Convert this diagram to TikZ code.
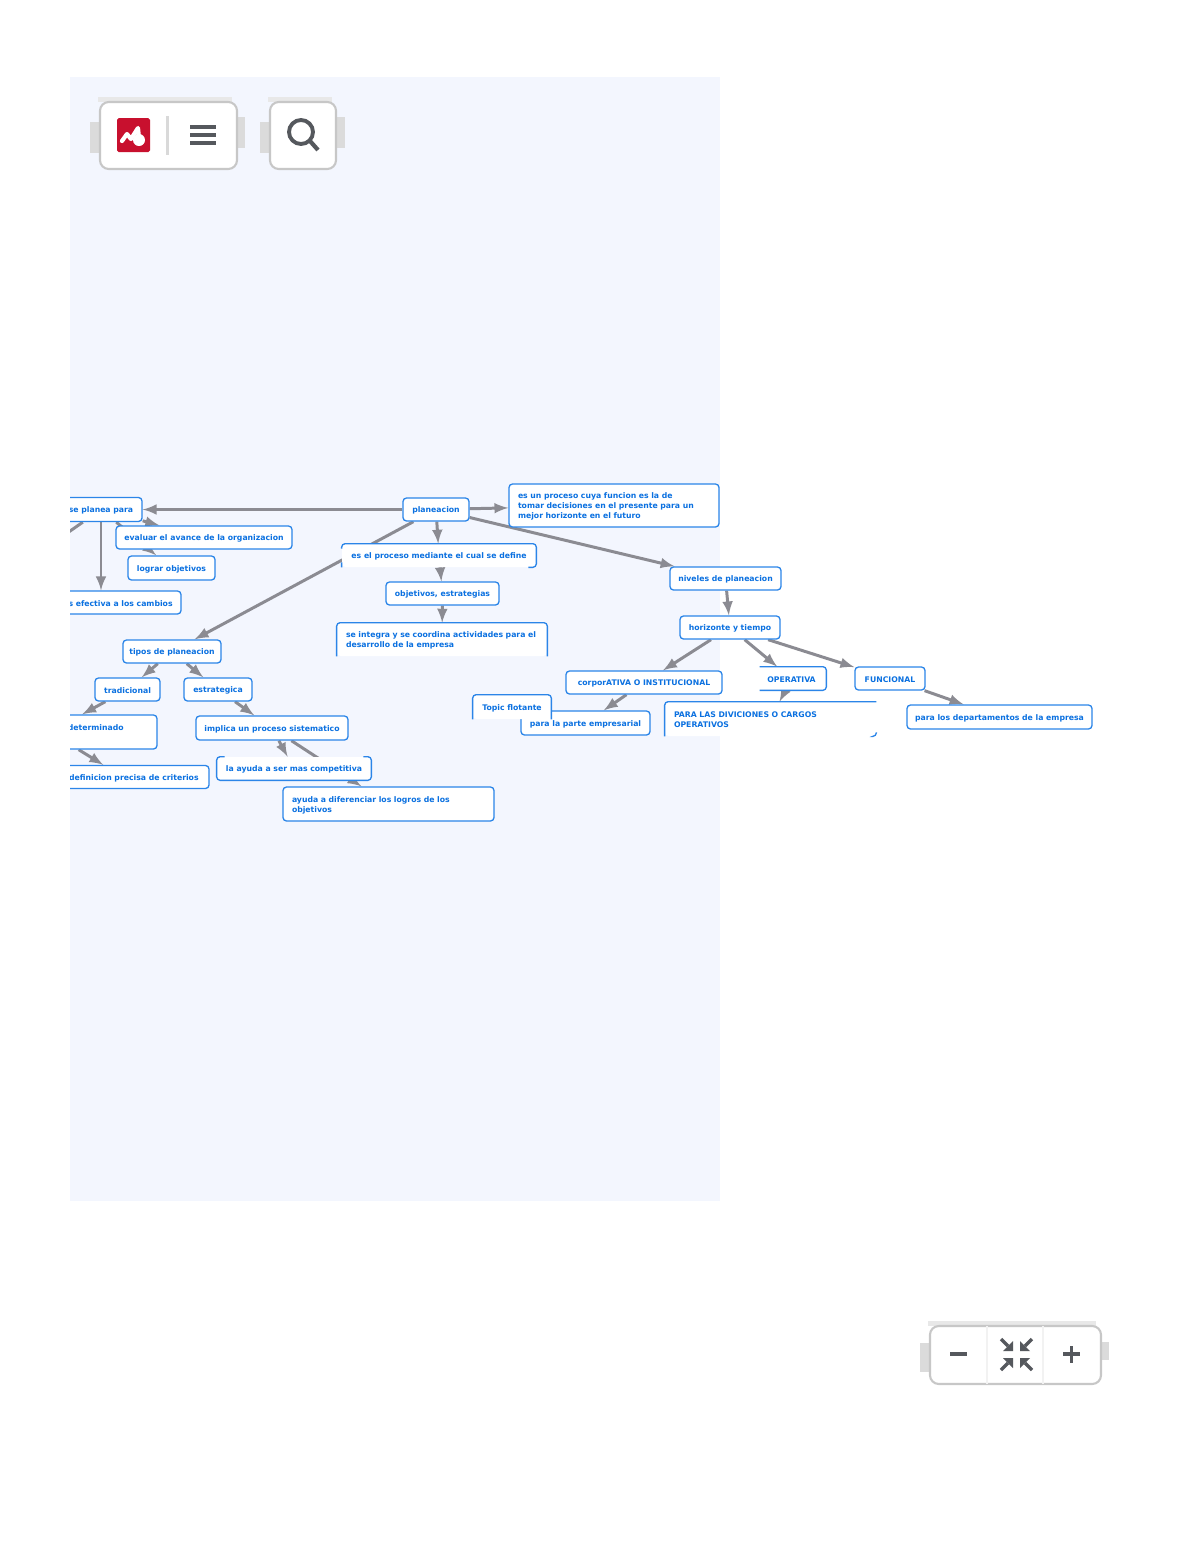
\documentclass[tikz,border=0pt]{standalone}
\usepackage{fontspec}
\setmainfont{DejaVu Sans}
\usetikzlibrary{backgrounds,calc}
\definecolor{panelblue}{HTML}{F3F6FE}
\definecolor{boxblue}{HTML}{2B85E8}
\definecolor{textblue}{HTML}{0A70E0}
\definecolor{linkgray}{HTML}{8B8B92}
\definecolor{iconred}{HTML}{C8102E}
\definecolor{icongray}{HTML}{55585D}
\tikzset{
	x=0.02cm, y=-0.02cm,
	topicbare/.style n args={2}{fill=white, inner sep=0pt, text=textblue, font=\bfseries\fontsize{4.4}{5.67}\selectfont, minimum width=#1*0.02cm, minimum height=#2*0.02cm, rounded corners=2pt, execute at begin node={\rule{0pt}{4.4pt}}},
	topic/.style n args={2}{topicbare={#1}{#2}, draw=boxblue, line width=0.75pt},
	outline/.style={draw=boxblue, line width=0.75pt, rounded corners=2pt},
	topictext/.style={inner sep=0pt, text=textblue, font=\bfseries\fontsize{4.4}{5.67}\selectfont},
	link/.style={draw=linkgray, line width=1.7pt, ->, >=latex},
	widget/.style={draw=black!22, fill=white, line width=1.2pt, rounded corners=5pt},
	haze/.style={fill=black!14, draw=none},
	iconline/.style={draw=icongray, line width=1.9pt},
}
\begin{document}
\begin{tikzpicture}
	%%%%% START %%%%%
	\useasboundingbox (0, 0) rectangle (1200, 1553);

	\begin{scope}
		\clip (70, 0) rectangle (1200, 1553);

		\node[topic={82}{24}] (planea) at (101, 509.5) {se planea para};
		\node[topic={176}{23}] (evaluar) at (204, 537.5) {evaluar el avance de la organizacion};
		\node[topic={87}{24}] (lograr) at (171.5, 568) {lograr objetivos};
		\node[topic={160}{23}] (efectiva) at (101, 602.5) {};
		\node[topictext, anchor=east] (efectivatext) at (173, 603.5) {es efectiva a los cambios};

		\node[topic={98}{23}] (tipos) at (172, 651.5) {tipos de planeacion};
		\node[topic={65}{23}] (tradicional) at (127.5, 689.5) {tradicional};
		\node[topic={68}{23}] (estrategica) at (218, 689.5) {estrategica};
		\node[topic={214}{34}] (determinado) at (50, 732) {};
		\node[topictext, anchor=east] (determinadotext) at (124, 727.5) {determinado};
		\node[topic={172}{23}] (definicion) at (123, 777) {};
		\node[topictext, anchor=east] (definiciontext) at (199, 778) {definicion precisa de criterios};
	\end{scope}

	\node[topic={66}{23}] (planeacion) at (436, 509.5) {planeacion};
	\node[topic={210}{43}, align=left, text width=192*0.02cm] (funcion) at (614, 505.5) {es un proceso cuya funcion es la de\\tomar decisiones en el presente para un\\mejor horizonte en el futuro};

	\node[topicbare={194}{23}] (proceso) at (439, 555.5) {es el proceso mediante el cual se define};
	\draw[outline] ($(proceso.south west)+(0, -5)$) -- (proceso.south west) ($(proceso.north west)+(0, 5)$) -- (proceso.north west) -- (proceso.north east) -- (proceso.south east) -- ($(proceso.south east)+(-8, 0)$);
	\node[topic={113}{23}] (objetivos) at (442.5, 593.5) {objetivos, estrategias};
	\node[topicbare={210}{33}, align=left, text width=192*0.02cm] (integra) at (442, 639.5) {se integra y se coordina actividades para el\\desarrollo de la empresa};
	\draw[outline] (integra.south west) -- (integra.north west) -- (integra.north east) -- (integra.south east);

	\node[topic={152}{24}] (implica) at (272, 728) {implica un proceso sistematico};
	\node[topicbare={154}{23}] (ayuda) at (294, 768.5) {la ayuda a ser mas competitiva};
	\draw[outline] ($(ayuda.north west)+(8, 0)$) -- (ayuda.north west) -- (ayuda.south west) -- (ayuda.south east) -- (ayuda.north east) -- ($(ayuda.north east)+(-8, 0)$);
	\node[topic={211}{34}, align=left, text width=193*0.02cm] (diferenciar) at (388.5, 804) {ayuda a diferenciar los logros de los\\objetivos};

	\node[topic={111}{23}] (niveles) at (725.5, 578.5) {niveles de planeacion};
	\node[topic={100}{23}] (horizonte) at (730, 627.5) {horizonte y tiempo};
	\node[topic={156}{23}] (corporativa) at (644, 682.5) {corporATIVA O INSTITUCIONAL};
	\node[topicbare={69}{23}] (operativa) at (791.5, 678.5) {OPERATIVA};
	\draw[outline] ($(operativa.north west)+(3, 0)$) -- (operativa.north east) -- (operativa.south east) -- ($(operativa.south west)+(3, 0)$);
	\node[topic={70}{23}] (funcional) at (890, 678.5) {FUNCIONAL};

	\node[topic={129}{24}] (parte) at (585.5, 723) {para la parte empresarial};
	\node[topicbare={78}{24}] (flotante) at (512, 707) {Topic flotante};
	\draw[outline] (flotante.south west) -- (flotante.north west) -- (flotante.north east) -- (flotante.south east);
	\node[topicbare={211}{34}, align=left, text width=193*0.02cm] (divisiones) at (770.5, 719) {PARA LAS DIVICIONES O CARGOS\\OPERATIVOS};
	\draw[outline] (divisiones.south west) -- (divisiones.north west) -- (divisiones.north east);
	\draw[outline] ($(divisiones.south east)+(0, -4)$) -- (divisiones.south east) -- ($(divisiones.south east)+(-3, 0)$);
	\node[topic={185}{24}] (departamentos) at (999.5, 717) {para los departamentos de la empresa};

	\begin{pgfonlayer}{background}
		\fill[panelblue] (70, 77) rectangle (720, 1201);

		\begin{scope}
			\clip (70, 0) rectangle (1200, 1553);
			\coordinate (salida) at (50, 545);
			\draw[draw=linkgray, line width=1.7pt] (planea) -- (salida);
			\draw[link] (planea) -- (evaluar);
			\draw[link] (planea) -- (lograr);
			\draw[link] (planea) -- (efectiva);
			\draw[link] (tradicional) -- (determinado);
			\draw[link] (determinado) -- (definicion);
		\end{scope}

		\draw[link] (planeacion) -- (planea);
		\draw[link] (planeacion) -- (funcion);
		\draw[link] (planeacion) -- (proceso);
		\draw[link] (planeacion) -- (tipos);
		\draw[link] (planeacion) -- (niveles);
		\draw[link] (proceso) -- (objetivos);
		\draw[link] (objetivos) -- (integra);
		\draw[link] (tipos) -- (tradicional);
		\draw[link] (tipos) -- (estrategica);
		\draw[link] (estrategica) -- (implica);
		\draw[link] (implica) -- (ayuda);
		\draw[link] (implica) -- (diferenciar);
		\draw[link] (niveles) -- (horizonte);
		\draw[link] (horizonte) -- (corporativa);
		\draw[link] (horizonte) -- (operativa);
		\draw[link] (horizonte) -- (funcional);
		\draw[link] (corporativa) -- (parte);
		\draw[link] (operativa) -- (divisiones);
		\draw[link] (funcional) -- (departamentos);
	\end{pgfonlayer}

	% top left buttons
	\fill[haze] (90, 122) rectangle (100, 153);
	\fill[haze] (237, 117) rectangle (245, 148);
	\fill[haze] (260, 122) rectangle (270, 153);
	\fill[haze] (336, 117) rectangle (345, 148);
	\fill[black!9] (98, 97) rectangle (232, 102);
	\fill[black!9] (268, 97) rectangle (332, 102);
	\draw[widget] (100, 102) rectangle (237, 169);
	\draw[widget] (270, 102) rectangle (336, 169);

	\fill[iconred, rounded corners=1pt] (117, 118) rectangle (150, 152);
	\fill[white] (139, 140) circle (6);
	\draw[white, line width=2.4pt, line cap=round, line join=round] (122, 141) -- (127, 134) -- (131, 139) -- (138, 128) -- (139, 138);
	\fill[black!15] (166, 116) rectangle (169, 155);
	\draw[iconline] (190, 127) -- (216, 127);
	\draw[iconline] (190, 135) -- (216, 135);
	\draw[iconline] (190, 143) -- (216, 143);
	\draw[draw=icongray, line width=2.2pt] (301, 132) circle (12);
	\draw[draw=icongray, line width=2.4pt] (310, 141) -- (318, 150);

	% bottom right buttons
	\fill[haze] (920, 1343) rectangle (930, 1372);
	\fill[haze] (1101, 1342) rectangle (1109, 1360);
	\fill[black!9] (928, 1321) rectangle (1096, 1326);
	\draw[widget] (930, 1326) rectangle (1101, 1384);
	\draw[black!5, line width=0.7pt] (987, 1326) -- (987, 1384);
	\draw[black!5, line width=0.7pt] (1043, 1326) -- (1043, 1384);
	\draw[iconline] (950, 1354) -- (967, 1354);
	\draw[iconline] (1063, 1354) -- (1080, 1354);
	\draw[iconline] (1071.5, 1346) -- (1071.5, 1363);

	\fill[icongray] (1013, 1351) -- (1003, 1351) -- (1013, 1341) -- cycle;
	\draw[iconline] (1001, 1339) -- (1008, 1346);
	\fill[icongray] (1020, 1351) -- (1030, 1351) -- (1020, 1341) -- cycle;
	\draw[iconline] (1032, 1339) -- (1025, 1346);
	\fill[icongray] (1013, 1358) -- (1003, 1358) -- (1013, 1368) -- cycle;
	\draw[iconline] (1001, 1370) -- (1008, 1363);
	\fill[icongray] (1020, 1358) -- (1030, 1358) -- (1020, 1368) -- cycle;
	\draw[iconline] (1032, 1370) -- (1025, 1363);

	%%%%% END %%%%%
\end{tikzpicture}
\end{document}
